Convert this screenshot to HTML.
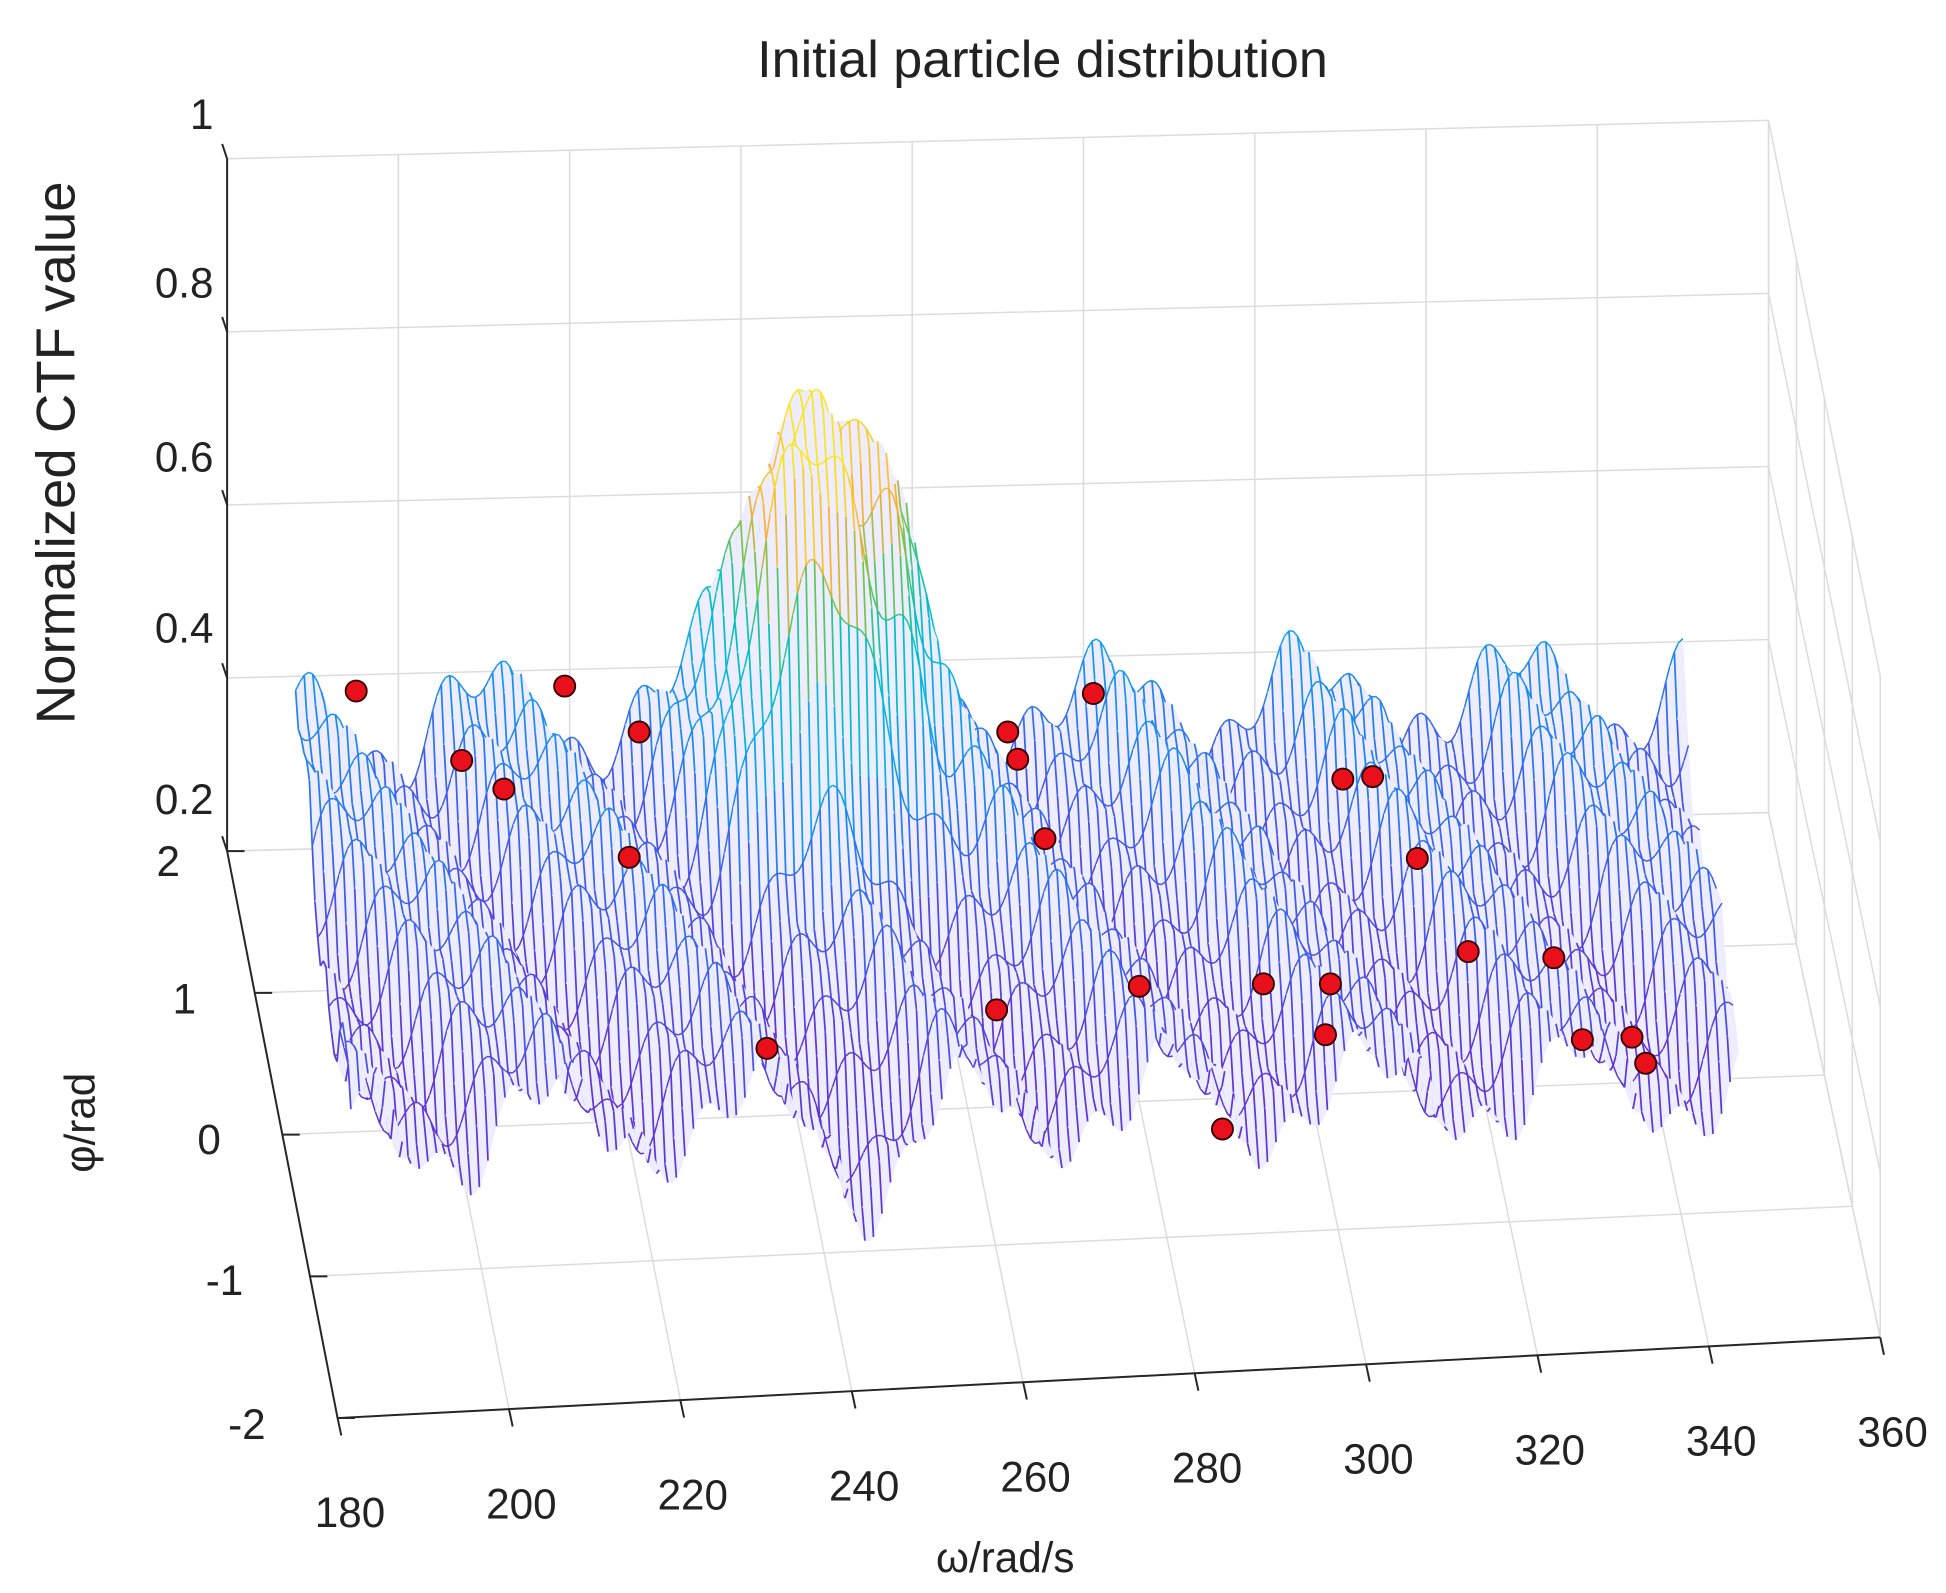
<!DOCTYPE html>
<html><head><meta charset="utf-8"><style>
html,body{margin:0;padding:0;background:#fff;}
svg{display:block;}
text{font-family:"Liberation Sans",sans-serif;fill:#222;}
</style></head><body>
<svg id="s" width="1946" height="1593" viewBox="0 0 1568 1284" preserveAspectRatio="none">
<rect width="1568" height="1284" fill="#fff"/>
<g id="grid" stroke="#dcdcdc" stroke-width="1.2" fill="none"></g>
<g id="axes" stroke="#262626" stroke-width="1.6" fill="none"></g>
<g id="mesh"></g>
<g id="pts"></g>
<text x="840" y="62" font-size="42" text-anchor="middle">Initial particle distribution</text>
<g font-size="34">
<text x="172" y="104" text-anchor="end">1</text>
<text x="172" y="240" text-anchor="end">0.8</text>
<text x="172" y="380" text-anchor="end">0.6</text>
<text x="172" y="518" text-anchor="end">0.4</text>
<text x="172" y="656" text-anchor="end">0.2</text>
<text x="145" y="706" text-anchor="end">2</text>
<text x="158" y="817" text-anchor="end">1</text>
<text x="178" y="930" text-anchor="end">0</text>
<text x="196" y="1044" text-anchor="end">-1</text>
<text x="214" y="1160" text-anchor="end">-2</text>
</g>
<g id="xl" font-size="34" text-anchor="middle"></g>
<text transform="translate(60,365) rotate(-90)" font-size="44" text-anchor="middle">Normalized CTF value</text>
<text transform="translate(76,905) rotate(-90)" font-size="34" text-anchor="middle">φ/rad</text>
<text x="810" y="1267" font-size="34" text-anchor="middle">ω/rad/s</text>
</svg>
<script>
var NS="http://www.w3.org/2000/svg";
function P(om,ph,z){var u=(om-180)/180,v=(2-ph)/4,w=(z-0.2)/0.8;
 var x=183+89*v+(1242+1*v)*u; var y=686+457*v-(31+34*v)*u; y-=w*(558-25*v); return [x,y];}
function el(g,t,a){var e=document.createElementNS(NS,t);for(var k in a)e.setAttribute(k,a[k]);g.appendChild(e);return e;}
function line(g,a,b){return el(g,'line',{x1:a[0].toFixed(1),y1:a[1].toFixed(1),x2:b[0].toFixed(1),y2:b[1].toFixed(1)});}
var grid=document.getElementById('grid'),axes=document.getElementById('axes');
for(var i=0;i<=9;i++){var om=180+20*i;line(grid,P(om,2,0.2),P(om,2,1));line(grid,P(om,2,0.2),P(om,-2,0.2));}
for(var z=0.2;z<=1.001;z+=0.2){line(grid,P(180,2,z),P(360,2,z));line(grid,P(360,2,z),P(360,-2,z));}
for(var p=-2;p<=2;p++){line(grid,P(180,p,0.2),P(360,p,0.2));line(grid,P(360,p,0.2),P(360,p,1));}
line(axes,P(180,2,0.2),P(180,2,1));
line(axes,P(180,2,0.2),P(180,-2,0.2));
line(axes,P(180,-2,0.2),P(360,-2,0.2));
for(var z=0.2;z<=1.001;z+=0.2){var a=P(180,2,z);line(axes,a,[a[0]-4,a[1]-12]);}
for(var p=-2;p<=2;p++){var a=P(180,p,0.2);line(axes,a,[a[0]+14,a[1]]);}
var xl=document.getElementById('xl');
for(var i=0;i<=9;i++){var a=P(180+20*i,-2,0.2);line(axes,a,[a[0]+3,a[1]+14]);
 var t=el(xl,'text',{x:(a[0]+10).toFixed(1),y:(a[1]+88).toFixed(1)});t.textContent=String(180+20*i);}
function f(om,ph){
 var s=2-ph;
 var r=0.2+0.07*ph;
 r+=0.03*Math.cos(2*Math.PI*(om-190-12*s)/7.6);
 r+=0.055*Math.cos(2*Math.PI*(om-186-13*s)/24);
 r+=0.008*Math.sin(ph*22+om*0.4);
 var g=Math.exp(-Math.pow((om-248)/10,2)-Math.pow((ph-1.6)/0.5,4));
 r+=0.47*g;
 var g2=Math.exp(-Math.pow((om-257)/3,2)-Math.pow((ph-1.7)/0.35,2));r+=0.12*g2;
 r-=0.08*Math.exp(-Math.pow((om-250)/6,2)-Math.pow((ph-0.15)/0.35,2));
 return r;}
var stops=[[0.2,[95,55,210]],[0.3,[60,95,235]],[0.38,[25,140,240]],[0.45,[10,180,230]],[0.52,[0,195,185]],[0.59,[100,200,80]],[0.65,[250,175,50]],[0.73,[250,230,30]]];
function col(z){if(z<=stops[0][0])return stops[0][1];for(var i=1;i<stops.length;i++){if(z<=stops[i][0]){var a=stops[i-1],b=stops[i],t=(z-a[0])/(b[0]-a[0]);return [0,1,2].map(function(k){return Math.round(a[1][k]+(b[1][k]-a[1][k])*t);});}}return stops[stops.length-1][1];}
var mesh=document.getElementById('mesh');
var o0=188,o1=350,dO=0.5,p0=0,p1=2,dP=0.1;
var NO=Math.round((o1-o0)/dO),NP=Math.round((p1-p0)/dP);
var Z=[];for(var j=0;j<=NP;j++){Z[j]=[];for(var i=0;i<=NO;i++){Z[j][i]=f(o0+i*dO,p1-j*dP);}}
var html='';
function F(p){return p[0].toFixed(1)+' '+p[1].toFixed(1);}
for(var j=0;j<NP;j++){
 for(var i=0;i<NO;i++){
  var om=o0+i*dO,ph=p1-j*dP;
  var a=P(om,ph,Z[j][i]),b=P(om+dO,ph,Z[j][i+1]),c=P(om+dO,ph-dP,Z[j+1][i+1]),d=P(om,ph-dP,Z[j+1][i]);
  var cc=col((Z[j][i]+Z[j+1][i])/2);
  var cr=col((Z[j][i]+Z[j][i+1])/2);
  html+='<path d="M'+F(a)+'L'+F(b)+'L'+F(c)+'L'+F(d)+'Z" fill="#eeecff"/>';
  if(i%2==0)html+='<path d="M'+F(a)+'L'+F(d)+'" stroke="rgb('+cc.join(',')+')" stroke-width="1.4" fill="none"/>';
  if(j%2==0)html+='<path d="M'+F(a)+'L'+F(b)+'" stroke="rgb('+cr.join(',')+')" stroke-width="1.2" fill="none"/>';
 }
}
mesh.innerHTML=html;
var pts=[[287,557],[372,613],[406,636],[455,553],[515,590],[507,691],[618,845],[812,590],[820,612],[842,676],[881,559],[803,814],[918,795],[1018,793],[1072,793],[1068,834],[985,910],[1082,628],[1106,626],[1142,692],[1183,767],[1252,772],[1275,838],[1315,836],[1326,857]];
var pg=document.getElementById('pts');
pts.forEach(function(q){el(pg,'circle',{cx:q[0],cy:q[1],r:8.5,fill:'#e8101a',stroke:'#300',"stroke-width":1.5});});
</script>
</body></html>
